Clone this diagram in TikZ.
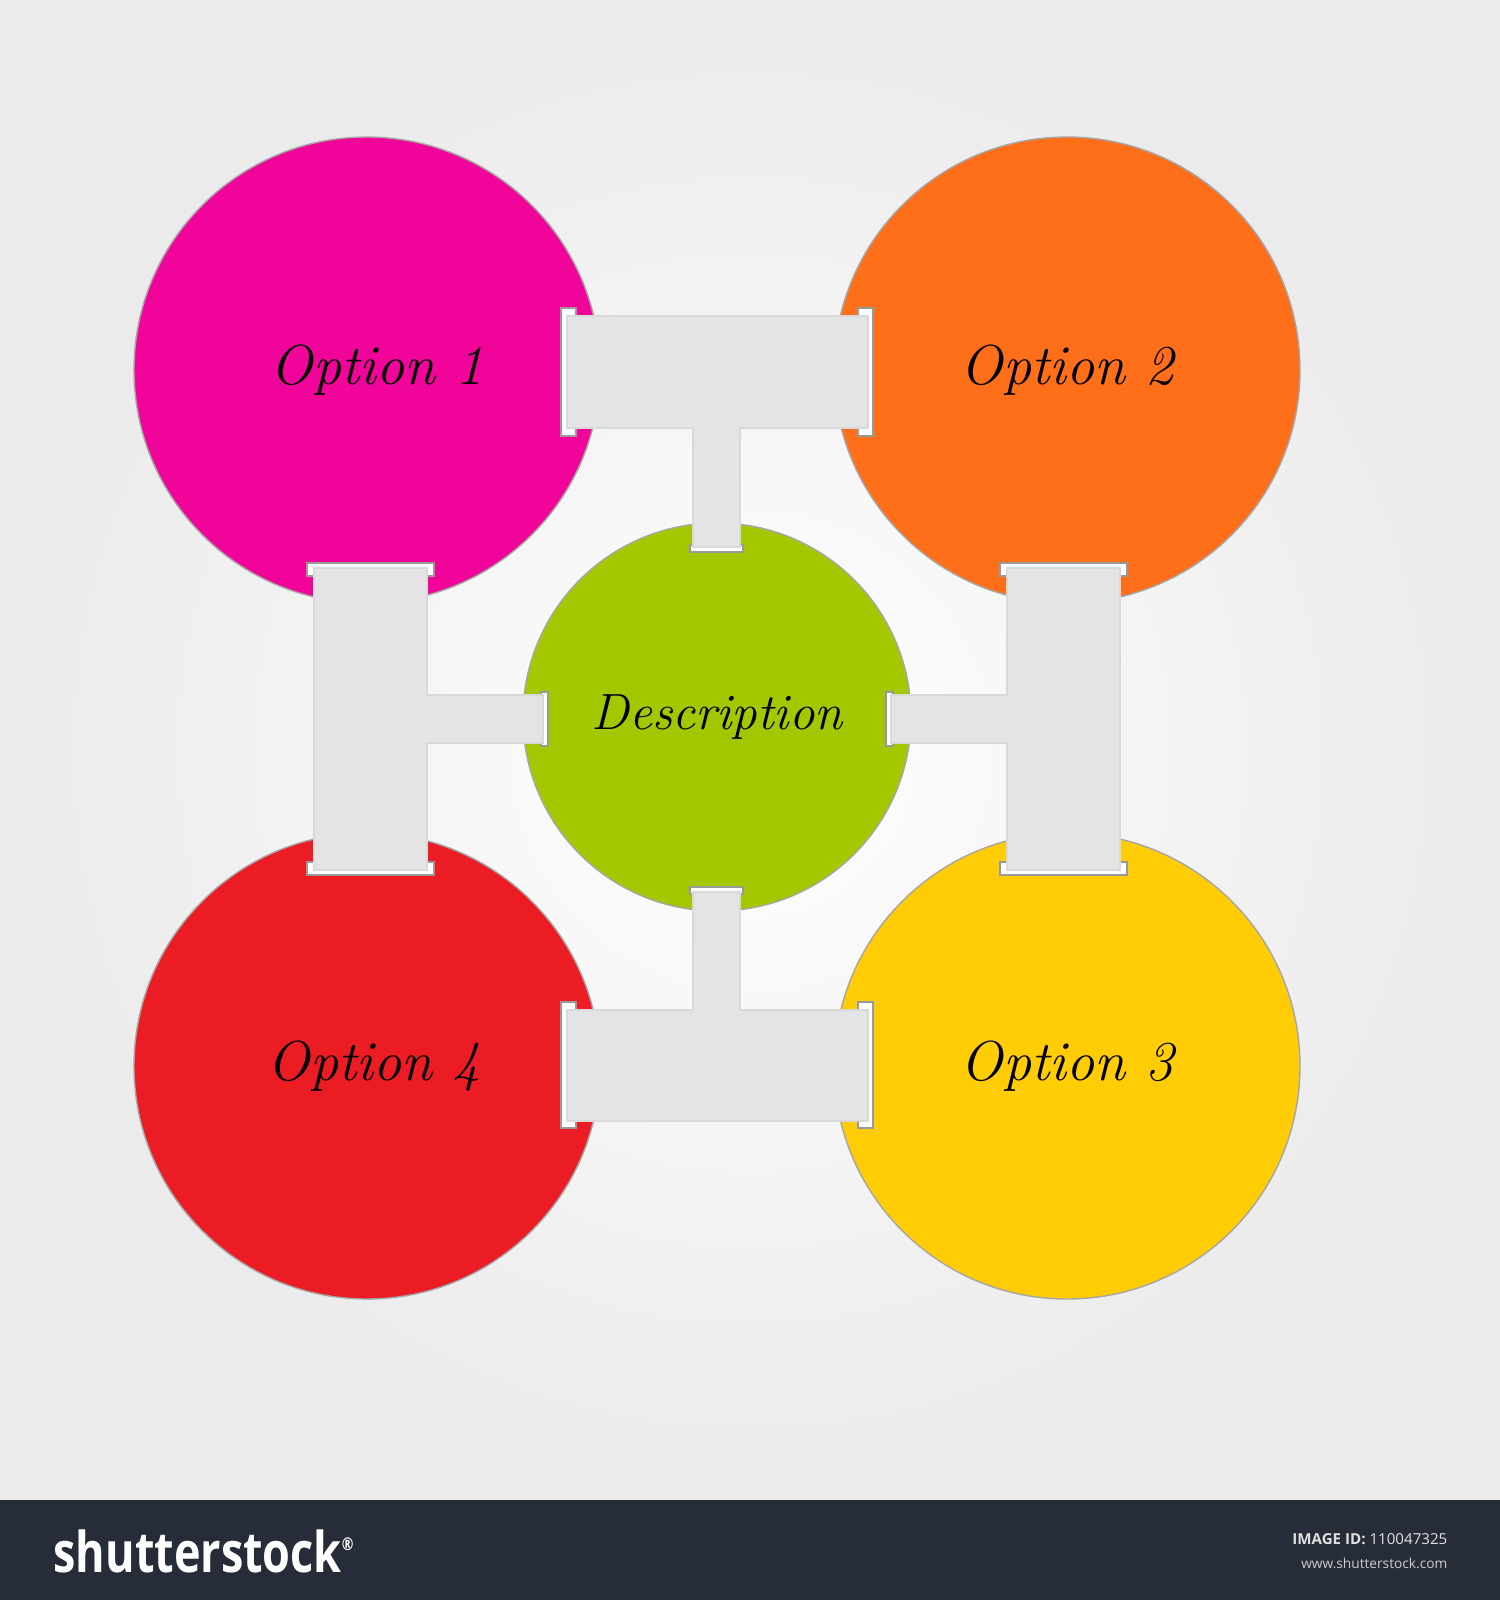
\documentclass[tikz,border=0pt]{standalone}
\usepackage{fontspec}
\newfontfamily\stockfont{Open Sans}
\definecolor{optpink}{HTML}{F0049A}
\definecolor{optorange}{HTML}{FF6F19}
\definecolor{optyellow}{HTML}{FFCC05}
\definecolor{optred}{HTML}{EC1C24}
\definecolor{descgreen}{HTML}{A4C800}
\definecolor{pipegray}{HTML}{E4E4E6}
\definecolor{footbg}{HTML}{272D38}
\newcommand{\drawoption}{\node[draw=black!35,line width=0.4pt,circle,inner sep=0,minimum size=46.6mm,font=\fontsize{16}{20}\selectfont\itshape]}
\newcommand{\drawdesc}{\node[draw=black!35,line width=0.4pt,circle,inner sep=0,minimum size=38.8mm,font=\fontsize{14.5}{18}\selectfont\itshape]}
\newcommand{\drawend}{\draw[fill=white,draw=black!40,line width=0.5pt]}
\newcommand{\drawpipe}{\draw[fill=pipegray,draw=black!15,line width=0.3pt]}

\begin{document}
\begin{tikzpicture}[x=0.1mm,y=-0.1mm]
\useasboundingbox (0,0) rectangle (1500,1600);
%background
\shade[inner color=white,outer color=black!8] (0,0) rectangle (1500,1500);
\fill[footbg] (0,1500) rectangle (1500,1600);

%options round the description
\drawoption[fill=optpink] (opt1) at (367,370) {\hspace{2mm}Option 1};
\drawoption[fill=optorange] (opt2) at (1067,370) {Option 2\hspace{1mm}};
\drawoption[fill=optyellow] (opt3) at (1067,1066) {Option 3\hspace{1mm}};
\drawoption[fill=optred] (opt4) at (367,1066) {\hspace{1.4mm}Option 4};
\drawdesc[fill=descgreen] (desc) at (717,717) {Description};

%top pipe
\drawend (561,308) rectangle (576,436);
\drawend (858,308) rectangle (873,436);
\drawend (690,545) rectangle (743,552);
\drawpipe (567,316) -- (868,316) -- (868,428) -- (740,428) -- (740,547)
  -- (693,547) -- (693,428) -- (567,428) -- cycle;

%bottom pipe
\drawend (561,1002) rectangle (576,1128);
\drawend (858,1002) rectangle (873,1128);
\drawend (690,887) rectangle (743,894);
\drawpipe (567,1010) -- (693,1010) -- (693,892) -- (740,892) -- (740,1010)
  -- (868,1010) -- (868,1121) -- (567,1121) -- cycle;

%left pipe
\drawend (307,563) rectangle (434,576);
\drawend (307,862) rectangle (434,875);
\drawend (541,692) rectangle (548,746);
\drawpipe (314,568) -- (427,568) -- (427,695) -- (543,695) -- (543,743)
  -- (427,743) -- (427,870) -- (314,870) -- cycle;

%right pipe
\drawend (1000,563) rectangle (1127,576);
\drawend (1000,862) rectangle (1127,875);
\drawend (886,692) rectangle (893,746);
\drawpipe (1120,568) -- (1007,568) -- (1007,695) -- (891,695) -- (891,743)
  -- (1007,743) -- (1007,870) -- (1120,870) -- cycle;

%footer
\node[anchor=base west,inner sep=0,text=white,xscale=0.8,font=\stockfont\bfseries\fontsize{16}{18}\selectfont] (logo) at (53,1572) {shutterstock\raisebox{6pt}{\fontsize{5}{6}\selectfont\textregistered}};
\node[anchor=base east,inner sep=0,text=black!12,font=\stockfont\fontsize{4.3}{5}\selectfont] (imgid) at (1448,1544) {\textbf{IMAGE ID:} 110047325};
\node[anchor=base east,inner sep=0,text=black!20,font=\stockfont\fontsize{3.9}{5}\selectfont] (site) at (1448,1568) {www.shutterstock.com};
\end{tikzpicture}
\end{document}
